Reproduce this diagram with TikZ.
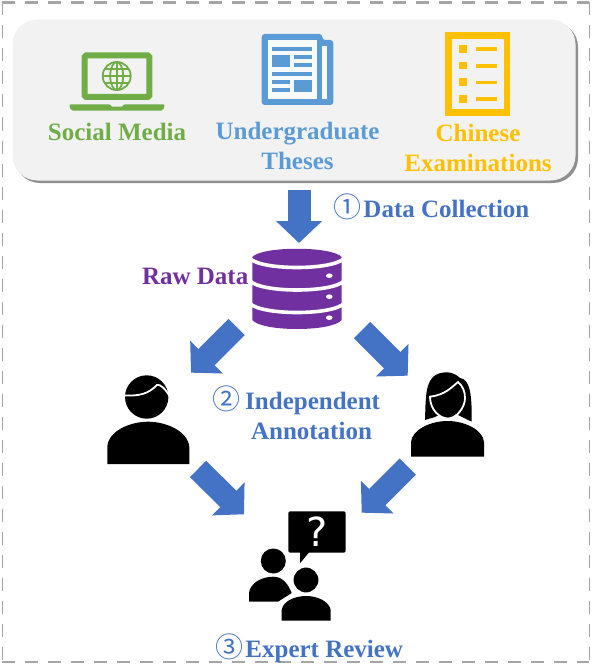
\documentclass[tikz,border=0pt]{standalone}
\usepackage{fontspec}
\setmainfont{Liberation Serif}
\newfontfamily\cjkfont{Noto Sans CJK SC}
\newfontfamily\markfont{DejaVu Sans}
\usetikzlibrary{arrows.meta,shadows}
\definecolor{socialgreen}{HTML}{70AD47}
\definecolor{thesisblue}{HTML}{5B9BD5}
\definecolor{examyellow}{HTML}{FFC000}
\definecolor{stepblue}{HTML}{4472C4}
\definecolor{rawpurple}{HTML}{7030A0}
\definecolor{framegray}{HTML}{A6A6A6}
\newcommand{\stepnum}[1]{{\cjkfont\mdseries\fontsize{28}{30}\selectfont #1}}
\tikzset{
    label/.style={inner sep=0pt, align=center, font=\bfseries\fontsize{25}{30}\selectfont},
    blockarrow/.style={line width=23pt, draw=stepblue, -{Triangle[length=22pt,width=45pt]}},
    frameline/.style={draw=framegray, dash pattern=on 13pt off 10pt},
}

\begin{document}
\begin{tikzpicture}[x=1pt,y=-1pt]
    \useasboundingbox (0,0) rectangle (596,666);

    % Dashed frame
    \draw[frameline, line width=2.6pt] (2,2.5) -- (589,2.5);
    \draw[frameline, line width=2.6pt] (2,662) -- (589,662);
    \draw[frameline, line width=1pt] (2,2.5) -- (2,662);
    \draw[frameline, line width=1pt] (589,2.5) -- (589,662);

    % Sources panel
    \node[fill=black!5, rounded corners=25pt, minimum width=563pt, minimum height=161pt, inner sep=0pt,
          drop shadow={shadow xshift=2.5pt, shadow yshift=-2.5pt, fill=black!55, opacity=0.8}] (sources) at (294,100) {};

    % Laptop
    \draw[socialgreen, line width=6pt, rounded corners=1.5pt] (84.7,55.3) rectangle (149.3,97);
    \fill[socialgreen, rounded corners=2pt] (69,104.3) -- (110.7,104.3) -- (110.7,106.7) -- (123.3,106.7) -- (123.3,104.3) -- (165,104.3) -- (163,110.7) -- (71,110.7) -- cycle;
    \draw[socialgreen, line width=1.8pt] (116.7,76) circle (14);
    \draw[socialgreen, line width=1.8pt] (116.7,76) ellipse (6.5 and 14);
    \draw[socialgreen, line width=1.8pt] (116.7,62) -- (116.7,90);
    \draw[socialgreen, line width=1.8pt] (102.7,76) -- (130.7,76);
    \draw[socialgreen, line width=1.5pt] (104.5,69) -- (129,69);
    \draw[socialgreen, line width=1.5pt] (104.5,83) -- (129,83);

    % Newspaper
    \fill[thesisblue, rounded corners=3pt] (261.7,34) -- (322.3,34) -- (322.3,40) -- (333.3,40) -- (333.3,105) -- (261.7,105) -- cycle;
    \fill[white!95!thesisblue] (267.7,40) rectangle (316.7,99);
    \fill[white!95!thesisblue] (322.3,45.7) rectangle (327.3,99);
    \fill[thesisblue] (272.3,46.7) rectangle (311.7,50.7);
    \fill[thesisblue] (272.3,55) rectangle (290,67.3);
    \fill[thesisblue] (294.3,55) rectangle (311.7,59);
    \fill[thesisblue] (294.3,63.3) rectangle (311.7,67.3);
    \fill[thesisblue] (272.3,71.7) rectangle (311.7,75.7);
    \fill[thesisblue] (272.3,80) rectangle (290,84);
    \fill[thesisblue] (272.3,88.3) rectangle (290,92.3);
    \fill[thesisblue] (294.3,80) rectangle (311.7,92.3);

    % Exam sheet
    \draw[examyellow, line width=6.5pt] (448.3,35.3) rectangle (507,112.4);
    \foreach \y in {45,61.7,78.4,95.1} {
        \fill[examyellow] (459,\y) rectangle (467,\y+7.7);
        \fill[examyellow] (475.7,\y+2.3) rectangle (496.8,\y+6);
    }

    % Source labels
    \node[label, text=socialgreen] (social) at (117,132) {Social Media};
    \node[label, text=thesisblue] (theses) at (297.5,146) {Undergraduate\\Theses};
    \node[label, text=examyellow] (exams) at (478,148) {Chinese\\Examinations};

    % Raw data cylinder
    \coordinate (rawtop) at (297,257);
    \fill[rawpurple] (252.3,257) -- (252.3,320) .. controls (262,332) and (332,332) .. (341.7,320) -- (341.7,257) .. controls (332,246) and (262,246) .. cycle;
    \foreach \y in {258.5,281,303.5}
        \draw[white, line width=3.6pt] (250,\y) .. controls (262,\y+12) and (332,\y+12) .. (344,\y);
    \foreach \y in {275.7,296.7,317.7}
        \fill[white] (329.3,\y) ellipse (3.3 and 2.3);
    \node[label, text=rawpurple, anchor=base east] (rawdata) at (248.5,284) {Raw Data};

    % Annotators
    \coordinate (annotatora) at (148,420);
    \fill (146.7,397) circle (21.7);
    \fill (107.3,464) -- (107.3,447) .. controls (108,431) and (130,421.7) .. (148,421.7) .. controls (166,421.7) and (188,431) .. (189.3,447) -- (189.3,464) -- cycle;
    \draw[white, line width=1.8pt] (124,395.5) .. controls (140,396) and (148,394) .. (157,385) .. controls (160,384) and (165,388) .. (170,397);

    \coordinate (annotatorb) at (448,420);
    \fill (425,420) .. controls (426,395) and (424,372.3) .. (447,372.3) .. controls (452,372.3) and (457,375) .. (460,378)
        .. controls (470,379) and (472,395) .. (471.7,421.7) -- (458,415) -- (448,410) -- (435,417) -- cycle;
    \draw[white, line width=1.8pt, fill=black] (430,396.7) .. controls (445,395) and (452,387) .. (458,382) .. controls (463,386) and (465,392) .. (465,398)
        .. controls (465,408) and (456,418.5) .. (448,418.5) .. controls (440,418.5) and (430,410) .. cycle;
    \fill (411,456.7) -- (411,442) .. controls (412,430) and (430,421) .. (447.5,421) .. controls (465,421) and (483,430) .. (484,442) -- (484,456.7) -- cycle;

    % Expert group
    \coordinate (expert) at (300,560);
    \fill[rounded corners=2pt] (288.3,511.3) rectangle (345.7,552.7);
    \fill (300,550) -- (300,563.3) -- (311,550) -- cycle;
    \node[text=white, inner sep=0pt, font=\markfont\fontsize{40}{40}\selectfont] (question) at (317,532) {?};
    \fill (273.3,561) circle (12.5);
    \fill (249,601.7) -- (249,593) .. controls (250,583) and (262,576.7) .. (273,576.7) .. controls (283,576.7) and (288,584) .. (291.7,593) -- (278,601.7) -- cycle;
    \draw[white, line width=3pt, fill=black] (306,580) circle (14);
    \draw[white, line width=3pt, fill=black] (281.7,620.7) -- (281.7,610) .. controls (283,601) and (295,596) .. (306,596) .. controls (317,596) and (329,601) .. (330.7,610) -- (330.7,620.7) -- cycle;
    \fill (281.7,620.7) -- (281.7,610) .. controls (283,601) and (295,596) .. (306,596) .. controls (317,596) and (329,601) .. (330.7,610) -- (330.7,620.7) -- cycle;

    % Arrow ends
    \coordinate (collectstart) at (299,190);
    \coordinate (collectend) at (299,243);
    \coordinate (leftstart) at (236.7,327);
    \coordinate (leftend) at (191,372.7);
    \coordinate (rightstart) at (362,330);
    \coordinate (rightend) at (407.7,375.7);
    \coordinate (mergeleftstart) at (198,469);
    \coordinate (mergeleftend) at (244,514.3);
    \coordinate (mergerightstart) at (407.7,466.7);
    \coordinate (mergerightend) at (361.7,512.7);

    % Arrows
    \draw[blockarrow] (collectstart) -- (collectend);
    \draw[blockarrow] (leftstart) -- (leftend);
    \draw[blockarrow] (rightstart) -- (rightend);
    \draw[blockarrow] (mergeleftstart) -- (mergeleftend);
    \draw[blockarrow] (mergerightstart) -- (mergerightend);

    % Step labels
    \node[label, text=stepblue, anchor=base west] (collection) at (333,217) {\stepnum{①}\hspace{-4pt} Data Collection};
    \node[label, text=stepblue] (annotation) at (296.5,413) {\stepnum{②}\hspace{-2pt} Independent\\\hspace*{30pt}Annotation};
    \node[label, text=stepblue, anchor=base west] (review) at (215,657) {\stepnum{③}\hspace{-4pt} Expert Review};
\end{tikzpicture}
\end{document}
